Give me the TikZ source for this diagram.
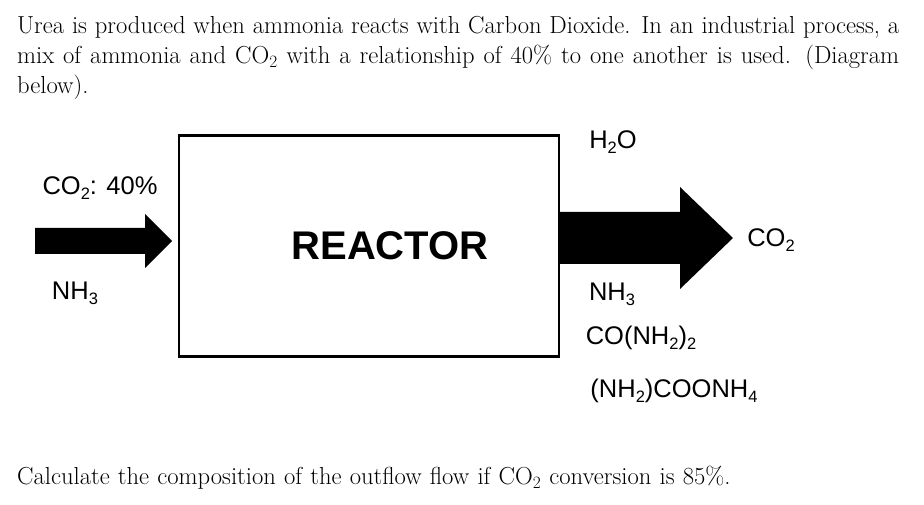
\documentclass[tikz,border=0pt]{standalone}
\usepackage{fontspec}
\newfontfamily\sans{Liberation Sans}
\newcommand\dn[1]{\raisebox{-0.35ex}{\fontsize{16.5}{16}\selectfont #1}}
\tikzset{lbl/.style={font=\sans\fontsize{25.5}{26}\selectfont,inner sep=0pt},
body/.style={font=\fontsize{24.6}{30}\selectfont,inner sep=0pt,align=justify,text width=882pt,anchor=north west}}
\begin{document}
\begin{tikzpicture}[x=1pt,y=-1pt]
\useasboundingbox[fill=white] (0,0) rectangle (924,505);
\node[body] (t1) at (17,16) {Urea is produced when ammonia reacts with Carbon Dioxide. In an industrial process, a mix of ammonia and CO$_2$ with a relationship of 40\% to one another is used. (Diagram below).};
\node[body,align=left] (t2) at (17,466) {Calculate the composition of the outflow flow if CO$_2$ conversion is 85\%.};
\node[draw,line width=2.5pt,minimum width=380pt,minimum height=221pt] (r) at (369,246) {};
\node[font=\sans\bfseries\fontsize{40}{44}\selectfont,inner sep=0pt] (rt) at (390,246) {REACTOR};
\fill (35,228) -- (145,228) -- (145,214) -- (172,241) -- (145,268) -- (145,254) -- (35,254) -- cycle;
\fill (560,212) -- (680,212) -- (680,187) -- (733,238) -- (680,289) -- (680,264) -- (560,264) -- cycle;
\node[lbl] (a) at (100,188) {CO\dn{2}: 40\%};
\node[lbl] (b) at (75,293) {NH\dn{3}};
\node[lbl] (c) at (613,142) {H\dn{2}O};
\node[lbl] (d) at (771,240) {CO\dn{2}};
\node[lbl] (e) at (612,294) {NH\dn{3}};
\node[lbl] (f) at (641,338) {CO(NH\dn{2})\dn{2}};
\node[lbl] (g) at (674,391) {(NH\dn{2})COONH\dn{4}};
\end{tikzpicture}
\end{document}
